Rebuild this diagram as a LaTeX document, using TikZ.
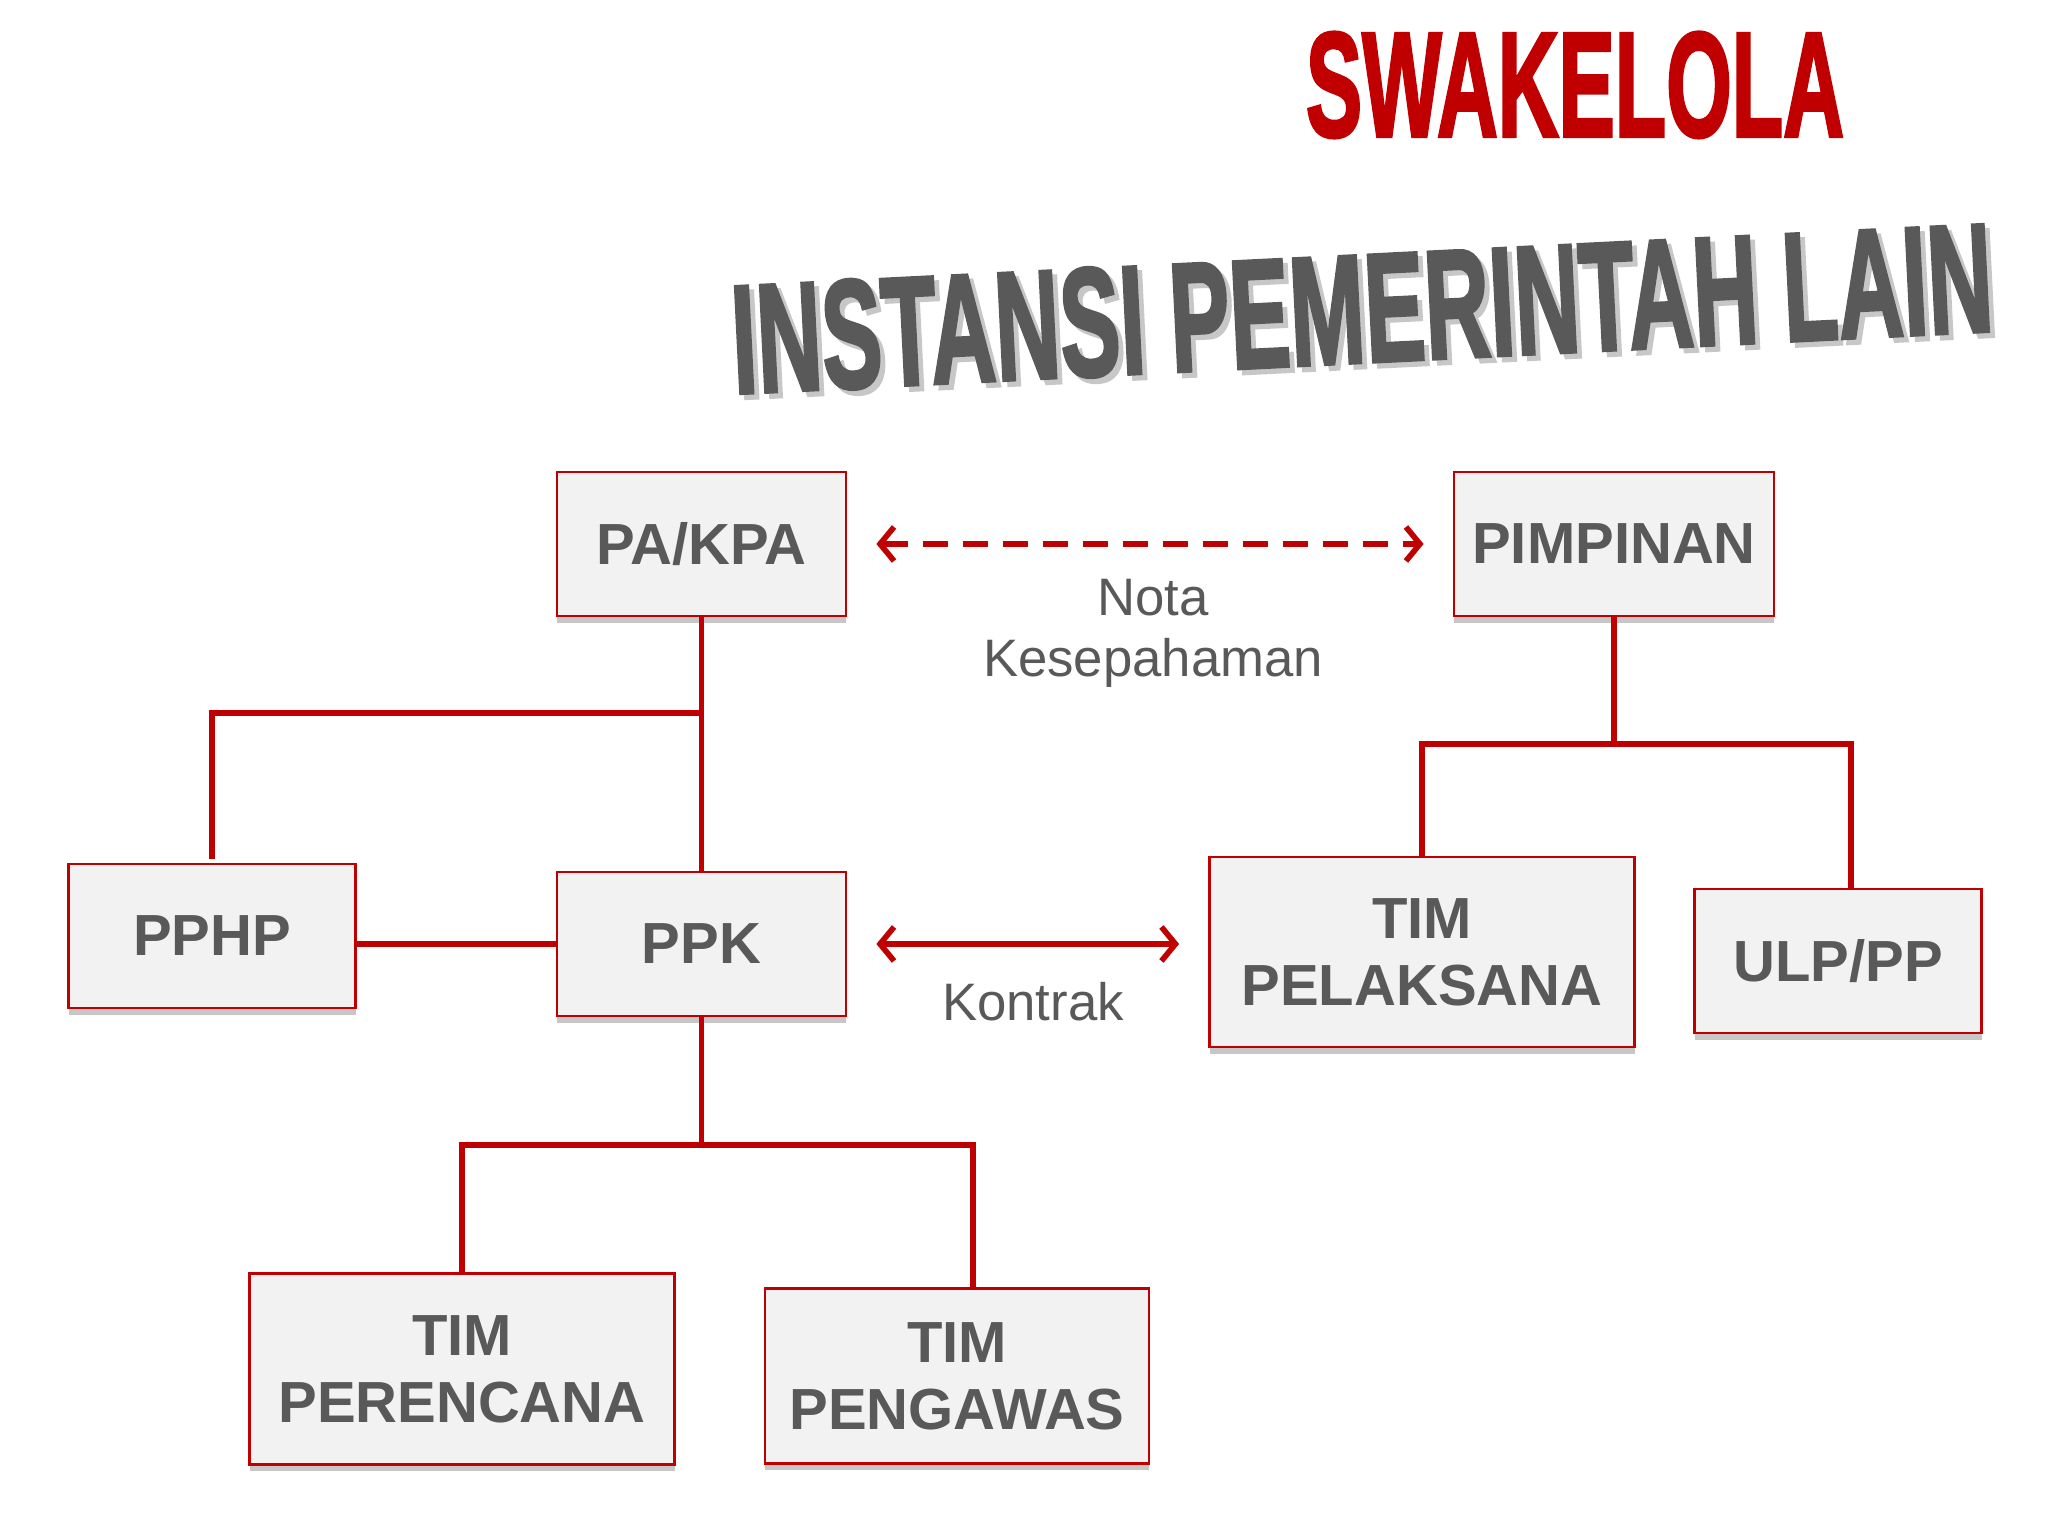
\documentclass[tikz,border=0pt]{standalone}
\usepackage{fontspec}
\usepackage{graphicx}
\setmainfont{Liberation Sans}
\newfontfamily\judulfont[FakeBold=2.5]{Liberation Sans Bold}
\usetikzlibrary{arrows.meta,shadows}
\definecolor{swared}{HTML}{C00000}
\definecolor{swagrey}{HTML}{595959}
\definecolor{swafill}{HTML}{F2F2F2}

\begin{document}
\begin{tikzpicture}[
        unit/.style={draw=swared, line width=0.8pt, fill=swafill, text=swagrey, align=center,
            inner sep=0pt, font=\fontsize{16.5}{19}\selectfont\bfseries,
            drop shadow={shadow xshift=0pt, shadow yshift=-0.07cm, fill=black!22, opacity=1}},
        link/.style={draw=swared, line width=1.6pt},
        relasi/.style={draw=swared, line width=1.6pt, {Straight Barb[length=0.14cm, width=0.34cm]}-{Straight Barb[length=0.14cm, width=0.34cm]},
            shorten <=0.29cm, shorten >=0.29cm},
        ket/.style={text=swagrey, align=center, font=\fontsize{15}{17.4}\selectfont}
    ]
        \useasboundingbox[fill=white] (0, 0) rectangle (20.48, 15.36);
        % judul
        \node[inner sep=0pt, text=swared] (swakelola) at (15.75, 14.51) {\resizebox{5.38cm}{1.04cm}{\judulfont SWAKELOLA}};
        \node[inner sep=0pt, text=black!22, rotate=2.85] (bayang) at (13.67, 12.22) {\resizebox{12.62cm}{1.08cm}{\judulfont INSTANSI PEMERINTAH LAIN}};
        \node[inner sep=0pt, text=swagrey, rotate=2.85] (instansi) at (13.62, 12.27) {\resizebox{12.62cm}{1.08cm}{\judulfont INSTANSI PEMERINTAH LAIN}};
        % kotak
        \node[unit, minimum width=2.89cm, minimum height=1.44cm] (pakpa) at (7.015, 9.92) {PA/KPA};
        \node[unit, minimum width=3.2cm, minimum height=1.44cm] (pimpinan) at (16.14, 9.92) {PIMPINAN};
        \node[unit, minimum width=2.87cm, minimum height=1.44cm] (pphp) at (2.12, 6.0) {PPHP};
        \node[unit, minimum width=2.89cm, minimum height=1.44cm] (ppk) at (7.015, 5.92) {PPK};
        \node[unit, minimum width=4.25cm, minimum height=1.9cm] (pelaksana) at (14.22, 5.84) {TIM\\PELAKSANA};
        \node[unit, minimum width=2.87cm, minimum height=1.44cm] (ulp) at (18.38, 5.75) {ULP/PP};
        \node[unit, minimum width=4.25cm, minimum height=1.91cm] (perencana) at (4.62, 1.67) {TIM\\PERENCANA};
        \node[unit, minimum width=3.84cm, minimum height=1.75cm] (pengawas) at (9.57, 1.6) {TIM\\PENGAWAS};
        % titik cabang
        \coordinate (jpakpa) at (7.015, 8.23);
        \coordinate (jppk) at (7.015, 3.91);
        \coordinate (jpeng) at (9.73, 3.91);
        \coordinate (jpimp) at (16.14, 7.92);
        \coordinate (julp) at (18.51, 7.92);
        % garis
        \draw[link] (pakpa) -- (ppk);
        \draw[link] ([yshift=0.04cm]pphp.north) |- (jpakpa);
        \draw[link] (pphp.east |- ppk.west) -- (ppk.west);
        \draw[link] (ppk) -- (jppk);
        \draw[link] (perencana.north) |- (jpeng) -- (jpeng |- pengawas.north);
        \draw[link] (pimpinan) -- (jpimp);
        \draw[link] (pelaksana.north) |- (julp) -- (julp |- ulp.north);
        % hubungan
        \draw[relasi, dash pattern=on 0.25cm off 0.15cm] (pakpa) -- (pimpinan);
        \node[ket] (nota) at (11.53, 9.03) {Nota\\Kesepahaman};
        \draw[relasi] (ppk.east) -- (ppk.east -| pelaksana.west);
        \node[ket] (kontrak) at (10.33, 5.34) {Kontrak};
    \end{tikzpicture}
\end{document}
